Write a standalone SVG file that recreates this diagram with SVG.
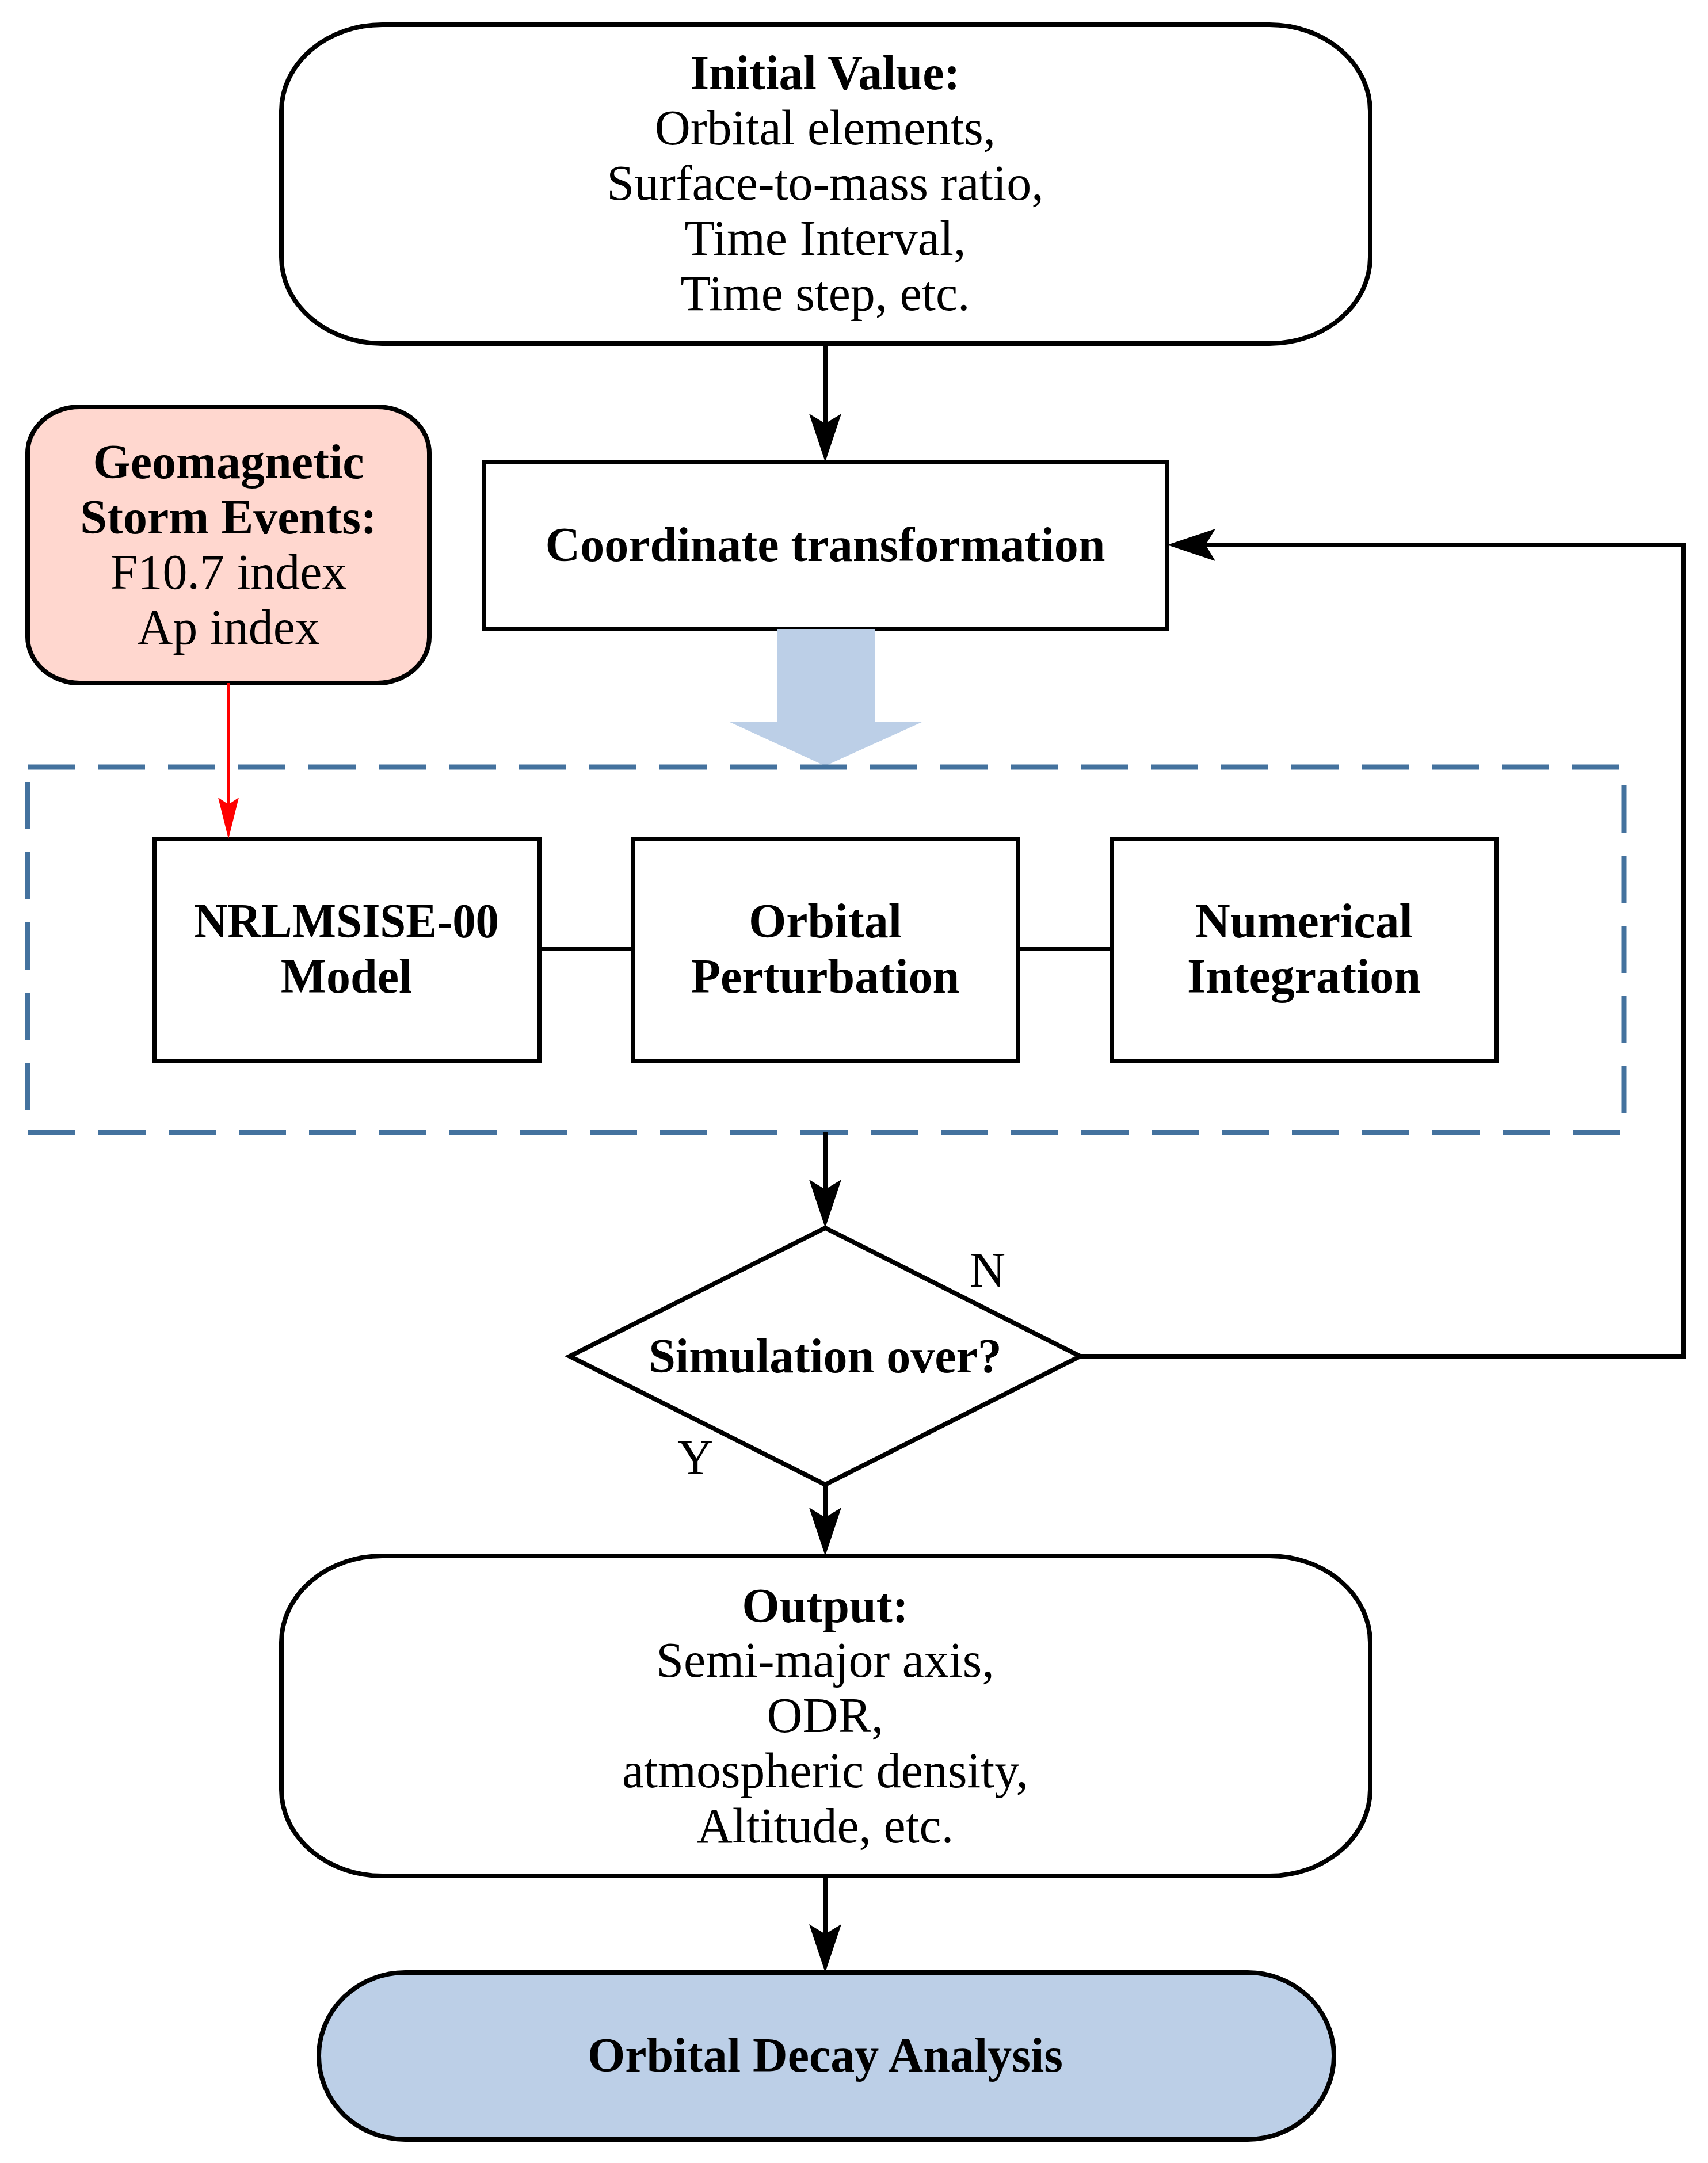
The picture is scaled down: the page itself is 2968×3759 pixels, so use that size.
<svg xmlns="http://www.w3.org/2000/svg" width="2968" height="3759" viewBox="0 0 2968 3759">
<style>
.box{fill:#fff;stroke:#000;stroke-width:8}
.t{font-family:"Liberation Serif","Times New Roman",serif;font-size:86px;text-anchor:middle;fill:#000}
.b{font-family:"Liberation Serif","Times New Roman",serif;font-size:84px;font-weight:bold;text-anchor:middle;fill:#000}
.ln{fill:none;stroke:#000;stroke-width:8}
</style>
<defs>
<marker id="ah" markerUnits="userSpaceOnUse" viewBox="0 -32 84 64" markerWidth="84" markerHeight="64" refX="17" refY="0" orient="auto">
<path d="M0,-28 L84,0 L0,28 L17,0 Z" fill="#000"/>
</marker>
<marker id="ahr" markerUnits="userSpaceOnUse" viewBox="0 -20 72 40" markerWidth="72" markerHeight="40" refX="12" refY="0" orient="auto">
<path d="M0,-18 L72,0 L0,18 L12,0 Z" fill="#FF0000"/>
</marker>
</defs>
<rect width="2968" height="3759" fill="#fff"/>

<g id="initial-value">
<rect class="box" x="489" y="43" width="1892" height="554" rx="175" ry="150"/>
<text class="b" x="1434" y="155">Initial Value:</text>
<text class="t" x="1434" y="251">Orbital elements,</text>
<text class="t" x="1434" y="347">Surface-to-mass ratio,</text>
<text class="t" x="1434" y="443">Time Interval,</text>
<text class="t" x="1434" y="539">Time step, etc.</text>
</g>

<g id="geomagnetic">
<rect x="48" y="707" width="698" height="480" rx="90" ry="80" fill="#FFD7CF" stroke="#000" stroke-width="8"/>
<text class="b" x="397" y="831">Geomagnetic</text>
<text class="b" x="397" y="927">Storm Events:</text>
<text class="t" x="397" y="1023">F10.7 index</text>
<text class="t" x="397" y="1119">Ap index</text>
</g>

<g id="coordinate">
<rect class="box" x="841" y="803" width="1187" height="290"/>
<text class="b" x="1434" y="975">Coordinate transformation</text>
</g>

<g id="block-arrow">
<polygon points="1350,1093 1520,1093 1520,1254 1604,1254 1434,1331 1266,1254 1350,1254" fill="#BCCFE7"/>
</g>

<g id="model-group">
<rect x="48" y="1333" width="2774" height="635" fill="none" stroke="#44729E" stroke-width="9" stroke-dasharray="82,40"/>
</g>

<g id="nrlmsise">
<rect class="box" x="268" y="1458" width="669" height="386"/>
<text class="b" x="602" y="1629" textLength="530" lengthAdjust="spacingAndGlyphs">NRLMSISE-00</text>
<text class="b" x="602" y="1725">Model</text>
</g>

<g id="orbital-perturbation">
<rect class="box" x="1100" y="1458" width="669" height="386"/>
<text class="b" x="1434" y="1629">Orbital</text>
<text class="b" x="1434" y="1725">Perturbation</text>
</g>

<g id="numerical-integration">
<rect class="box" x="1932" y="1458" width="669" height="386"/>
<text class="b" x="2266" y="1629">Numerical</text>
<text class="b" x="2266" y="1725">Integration</text>
</g>

<g id="decision">
<polygon class="box" points="1434,2134 1877,2357 1434,2580 990,2357"/>
<text class="b" x="1434" y="2385">Simulation over?</text>
</g>

<g id="output">
<rect class="box" x="489" y="2704" width="1892" height="556" rx="175" ry="150"/>
<text class="b" x="1434" y="2819">Output:</text>
<text class="t" x="1434" y="2914">Semi-major axis,</text>
<text class="t" x="1434" y="3010">ODR,</text>
<text class="t" x="1434" y="3106">atmospheric density,</text>
<text class="t" x="1434" y="3202">Altitude, etc.</text>
</g>

<g id="orbital-decay">
<rect x="554" y="3428" width="1764" height="290" rx="150" ry="145" fill="#BCCFE7" stroke="#000" stroke-width="8"/>
<text class="b" x="1434" y="3600">Orbital Decay Analysis</text>
</g>

<g id="connectors">
<line class="ln" x1="1434" y1="597" x2="1434" y2="736" marker-end="url(#ah)"/>
<line x1="397" y1="1187" x2="397" y2="1398" stroke="#FF0000" stroke-width="5" marker-end="url(#ahr)"/>
<line class="ln" x1="937" y1="1649" x2="1100" y2="1649"/>
<line class="ln" x1="1769" y1="1649" x2="1932" y2="1649"/>
<line class="ln" x1="1434" y1="1968" x2="1434" y2="2067" marker-end="url(#ah)"/>
<path class="ln" d="M1877,2357 H2925 V947 H2095" marker-end="url(#ah)"/>
<line class="ln" x1="1434" y1="2580" x2="1434" y2="2637" marker-end="url(#ah)"/>
<line class="ln" x1="1434" y1="3260" x2="1434" y2="3361" marker-end="url(#ah)"/>
<text class="t" x="1716" y="2236">N</text>
<text class="t" x="1208" y="2562">Y</text>
</g>
</svg>
